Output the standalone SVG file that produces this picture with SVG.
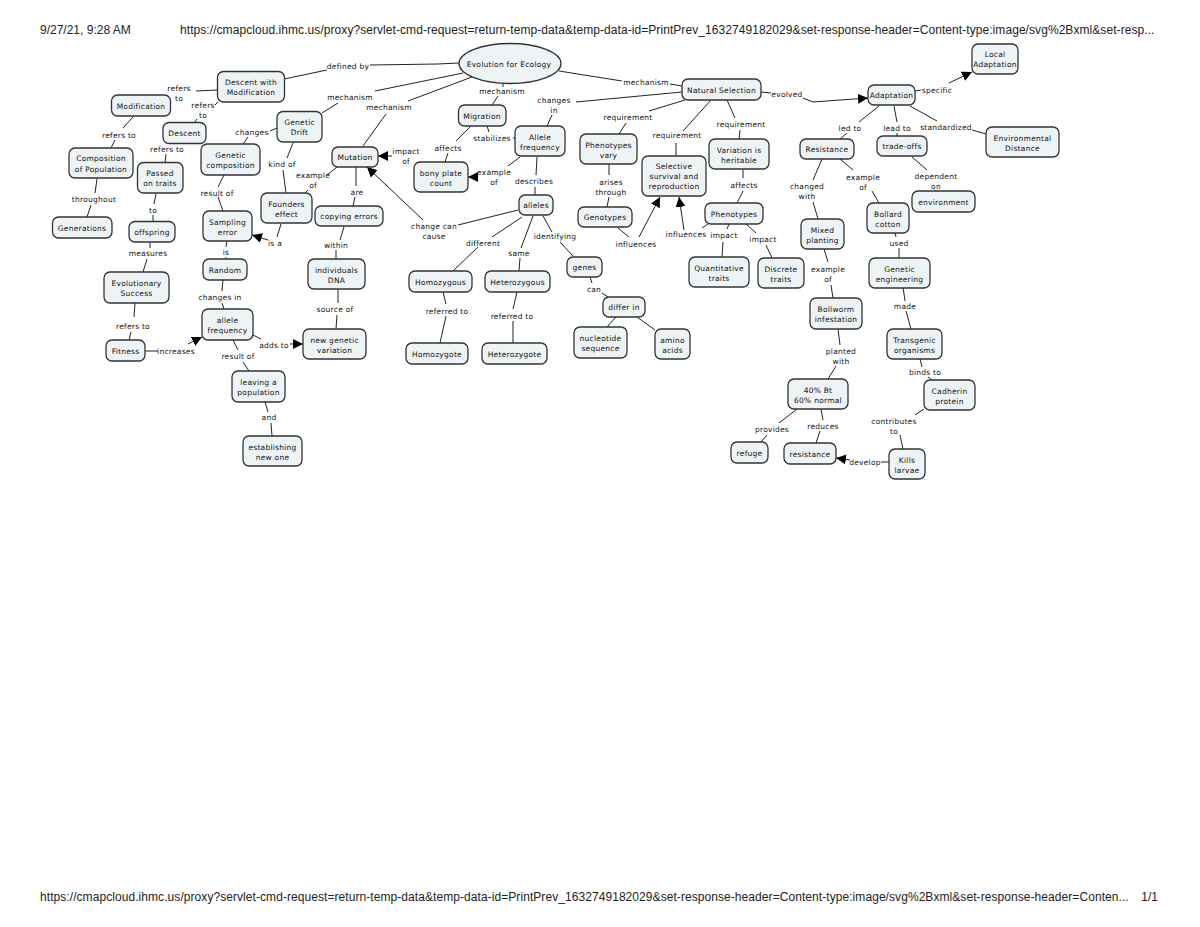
<svg xmlns="http://www.w3.org/2000/svg" width="1200" height="927" viewBox="0 0 1200 927">
<style>
.bg{fill:#fff}
.h{font:12px "Liberation Sans",Arial,sans-serif;fill:#222}
.u{letter-spacing:.066px}
.n rect,.n ellipse{fill:#eef3f6;stroke:#333;stroke-width:1.3}
text.t{font:7.5px "DejaVu Sans",Verdana,sans-serif;fill:#111;text-anchor:middle;letter-spacing:.25px}
#connectors path{fill:none;stroke:#222;stroke-width:1}
</style>
<defs><marker id="arrow" markerUnits="userSpaceOnUse" markerWidth="11" markerHeight="11" refX="10" refY="5" orient="auto"><path d="M0 0L10 5L0 10Z" fill="#000"/></marker></defs>
<rect class="bg" width="1200" height="927"/>
<g id="page-header"><text class="h" x="40" y="34">9/27/21, 9:28 AM</text><text class="h u" x="180" y="34">https://cmapcloud.ihmc.us/proxy?servlet-cmd-request=return-temp-data&amp;temp-data-id=PrintPrev_1632749182029&amp;set-response-header=Content-type:image/svg%2Bxml&amp;set-resp...</text></g>
<g id="page-footer"><text class="h u" x="40" y="901">https://cmapcloud.ihmc.us/proxy?servlet-cmd-request=return-temp-data&amp;temp-data-id=PrintPrev_1632749182029&amp;set-response-header=Content-type:image/svg%2Bxml&amp;set-response-header=Conten...</text><text class="h" x="1158" y="901" text-anchor="end">1/1</text></g>
<g id="connectors">
<path d="M459 63L438 64L370 65M327 70L284 79"/>
<path d="M463 73L375 91M338 103L322 113"/>
<path d="M472 77L408 101M386 114L363 146"/>
<path d="M503 83L503 87M498 96L492 105"/>
<path d="M559 71L622 81M670 84L682 86"/>
<path d="M682 92L576 102M552 115L547 126"/>
<path d="M685 100L649 111M626 123L619 134"/>
<path d="M711 100L683 131M676 143L676 156"/>
<path d="M727 100L735 118M740 130L739 139"/>
<path d="M761 92L771 93"/><path d="M803 98L813 102L868 98" marker-end="url(#arrow)"/>
<path d="M915 91L921 90"/><path d="M949 83L972 72" marker-end="url(#arrow)"/>
<path d="M879 106L859 122M847 133L840 139"/>
<path d="M894 106L897 122M897 133L897 136"/>
<path d="M910 106L937 121M972 130L986 134"/>
<path d="M912 157L927 170M935 190L935 191"/>
<path d="M822 159L813 180M813 202L818 219"/>
<path d="M840 159L853 170M872 191L879 203"/>
<path d="M895 233L896 237M899 248L899 258"/>
<path d="M903 287L905 301M906 311L911 329"/>
<path d="M920 359L922 367M928 377L932 380"/>
<path d="M924 409L915 415M900 435L903 449"/>
<path d="M889 462L881 462"/><path d="M850 460L836 458" marker-end="url(#arrow)"/>
<path d="M821 409L823 420M820 431L816 443"/>
<path d="M797 409L779 423M767 435L761 442"/>
<path d="M838 329L840 345M836 366L828 379"/>
<path d="M824 249L828 262M831 285L833 298"/>
<path d="M729 224L727 229M723 242L722 257"/>
<path d="M746 224L756 233M766 245L772 258"/>
<path d="M743 170L743 178M743 191L737 203"/>
<path d="M708 224L702 228"/><path d="M684 230L679 197" marker-end="url(#arrow)"/>
<path d="M618 228L629 237"/><path d="M639 237L660 197" marker-end="url(#arrow)"/>
<path d="M609 164L609 175M609 197L607 207"/>
<path d="M537 157L536 175M535 187L535 195"/>
<path d="M520 157L508 166"/><path d="M477 177L468 177" marker-end="url(#arrow)"/>
<path d="M487 126L489 132M513 138L515 138"/>
<path d="M471 126L456 141M448 153L445 162"/>
<path d="M392 156L378 156" marker-end="url(#arrow)"/>
<path d="M518 210L458 225"/><path d="M423 220L367 167" marker-end="url(#arrow)"/>
<path d="M522 217L492 237M478 247L453 271"/>
<path d="M533 216L521 248M520 258L519 271"/>
<path d="M543 216L552 232M560 242L573 256"/>
<path d="M590 277L592 283M602 293L608 297"/>
<path d="M616 317L607 327M637 317L655 330"/>
<path d="M443 292L446 304M446 316L440 343"/>
<path d="M517 292L513 309M513 321L513 343"/>
<path d="M217 90L196 91"/>
<path d="M218 102L215 105M197 119L194 123"/>
<path d="M133 117L123 128M115 140L111 148"/>
<path d="M97 179L95 193M91 205L87 217"/>
<path d="M166 154L165 163"/>
<path d="M156 194L154 204M153 215L153 222"/>
<path d="M150 243L150 248M147 259L143 272"/>
<path d="M135 303L134 317M131 332L129 340"/>
<path d="M145 351L158 351"/><path d="M188 344L202 337" marker-end="url(#arrow)"/>
<path d="M223 280L222 291M222 303L224 309"/>
<path d="M253 335L261 339"/><path d="M290 344L303 344" marker-end="url(#arrow)"/>
<path d="M233 340L238 350M243 362L249 371"/>
<path d="M265 402L268 412M271 423L272 436"/>
<path d="M338 289L338 303M337 315L336 329"/>
<path d="M344 227L340 240M336 250L336 259"/>
<path d="M356 167L356 186M355 197L353 206"/>
<path d="M308 190L305 193M327 175L337 167"/>
<path d="M293 143L287 158M283 170L286 193"/>
<path d="M277 128L270 131M248 137L243 144"/>
<path d="M224 175L218 187M218 197L223 211"/>
<path d="M227 241L226 247M226 257L226 259"/>
<path d="M281 224L277 237"/><path d="M268 240L252 235" marker-end="url(#arrow)"/>
</g>
<g id="connector-labels">
<text class="t" x="348" y="69">defined by</text>
<text class="t" x="350" y="100">mechanism</text>
<text class="t" x="389" y="110">mechanism</text>
<text class="t" x="502" y="94">mechanism</text>
<text class="t" x="646" y="85">mechanism</text>
<text class="t" x="554" y="103">changes</text><text class="t" x="554" y="113">in</text>
<text class="t" x="628" y="120">requirement</text>
<text class="t" x="677" y="138">requirement</text>
<text class="t" x="741" y="127">requirement</text>
<text class="t" x="787" y="97">evolved</text>
<text class="t" x="937" y="93">specific</text>
<text class="t" x="850" y="131">led to</text>
<text class="t" x="897" y="131">lead to</text>
<text class="t" x="946" y="130">standardized</text>
<text class="t" x="936" y="179">dependent</text><text class="t" x="936" y="189">on</text>
<text class="t" x="807" y="189">changed</text><text class="t" x="807" y="199">with</text>
<text class="t" x="863" y="180">example</text><text class="t" x="863" y="190">of</text>
<text class="t" x="899" y="246">used</text>
<text class="t" x="905" y="309">made</text>
<text class="t" x="925" y="375">binds to</text>
<text class="t" x="894" y="424">contributes</text><text class="t" x="894" y="434">to</text>
<text class="t" x="865" y="465">develop</text>
<text class="t" x="823" y="429">reduces</text>
<text class="t" x="772" y="432">provides</text>
<text class="t" x="841" y="354">planted</text><text class="t" x="841" y="364">with</text>
<text class="t" x="828" y="272">example</text><text class="t" x="828" y="282">of</text>
<text class="t" x="724" y="238">impact</text>
<text class="t" x="763" y="242">impact</text>
<text class="t" x="744" y="188">affects</text>
<text class="t" x="686" y="237">influences</text>
<text class="t" x="636" y="247">influences</text>
<text class="t" x="611" y="185">arises</text><text class="t" x="611" y="195">through</text>
<text class="t" x="534" y="184">describes</text>
<text class="t" x="494" y="175">example</text><text class="t" x="494" y="185">of</text>
<text class="t" x="492" y="141">stabilizes</text>
<text class="t" x="448" y="151">affects</text>
<text class="t" x="406" y="154">impact</text><text class="t" x="406" y="164">of</text>
<text class="t" x="434" y="229">change can</text><text class="t" x="434" y="239">cause</text>
<text class="t" x="483" y="246">different</text>
<text class="t" x="519" y="256">same</text>
<text class="t" x="555" y="239">identifying</text>
<text class="t" x="594" y="292">can</text>
<text class="t" x="447" y="314">referred to</text>
<text class="t" x="512" y="319">referred to</text>
<text class="t" x="179" y="91">refers</text><text class="t" x="179" y="101">to</text>
<text class="t" x="203" y="108">refers</text><text class="t" x="203" y="118">to</text>
<text class="t" x="119" y="138">refers to</text>
<text class="t" x="94" y="202">throughout</text>
<text class="t" x="167" y="152">refers to</text>
<text class="t" x="153" y="213">to</text>
<text class="t" x="148" y="256">measures</text>
<text class="t" x="133" y="329">refers to</text>
<text class="t" x="176" y="354">increases</text>
<text class="t" x="220" y="300">changes in</text>
<text class="t" x="274" y="348">adds to</text>
<text class="t" x="238" y="359">result of</text>
<text class="t" x="269" y="420">and</text>
<text class="t" x="335" y="312">source of</text>
<text class="t" x="336" y="248">within</text>
<text class="t" x="357" y="195">are</text>
<text class="t" x="313" y="178">example</text><text class="t" x="313" y="188">of</text>
<text class="t" x="282" y="167">kind of</text>
<text class="t" x="252" y="135">changes</text>
<text class="t" x="217" y="196">result of</text>
<text class="t" x="226" y="255">is</text>
<text class="t" x="275" y="246">is a</text>
</g>
<g id="evolution-for-ecology" class="n"><ellipse cx="510" cy="63.5" rx="51" ry="20"/><text class="t" x="509" y="66.5">Evolution for Ecology</text></g>
<g id="descent-with-modification" class="n"><rect x="217.5" y="71.5" width="67" height="30.5" rx="6"/><text class="t" x="251" y="84.5">Descent with</text><text class="t" x="251" y="95">Modification</text></g>
<g id="modification" class="n"><rect x="111.5" y="95" width="59" height="21" rx="6"/><text class="t" x="141" y="108.5">Modification</text></g>
<g id="descent" class="n"><rect x="163" y="122.5" width="43" height="21" rx="6"/><text class="t" x="184.5" y="136">Descent</text></g>
<g id="composition-of-population" class="n"><rect x="69" y="148" width="64" height="30" rx="6"/><text class="t" x="101" y="161">Composition</text><text class="t" x="101" y="172">of Population</text></g>
<g id="passed-on-traits" class="n"><rect x="137.5" y="162.5" width="45.5" height="30.5" rx="6"/><text class="t" x="160" y="176">Passed</text><text class="t" x="160" y="186">on traits</text></g>
<g id="generations" class="n"><rect x="52.5" y="217" width="59.5" height="21" rx="6"/><text class="t" x="82" y="231">Generations</text></g>
<g id="offspring" class="n"><rect x="129" y="221.5" width="46" height="20.5" rx="6"/><text class="t" x="152" y="235">offspring</text></g>
<g id="genetic-drift" class="n"><rect x="277" y="111.5" width="45" height="30.5" rx="6"/><text class="t" x="299.5" y="125">Genetic</text><text class="t" x="299.5" y="135">Drift</text></g>
<g id="genetic-composition" class="n"><rect x="201" y="144" width="59" height="31" rx="6"/><text class="t" x="230.5" y="158">Genetic</text><text class="t" x="230.5" y="168">composition</text></g>
<g id="sampling-error" class="n"><rect x="203" y="211" width="49" height="30" rx="6"/><text class="t" x="227.5" y="224.5">Sampling</text><text class="t" x="227.5" y="234.5">error</text></g>
<g id="founders-effect" class="n"><rect x="261" y="193" width="51" height="30" rx="6"/><text class="t" x="286.5" y="207">Founders</text><text class="t" x="286.5" y="217">effect</text></g>
<g id="mutation" class="n"><rect x="332" y="147" width="46" height="20" rx="6"/><text class="t" x="355" y="160">Mutation</text></g>
<g id="copying-errors" class="n"><rect x="315" y="206" width="68" height="20" rx="6"/><text class="t" x="349" y="219">copying errors</text></g>
<g id="random" class="n"><rect x="203" y="259" width="44" height="21" rx="6"/><text class="t" x="225" y="272.5">Random</text></g>
<g id="individuals-dna" class="n"><rect x="308" y="259" width="57" height="30" rx="6"/><text class="t" x="336.5" y="272.5">individuals</text><text class="t" x="336.5" y="282.5">DNA</text></g>
<g id="evolutionary-success" class="n"><rect x="104" y="272" width="65" height="31" rx="6"/><text class="t" x="136.5" y="285.5">Evolutionary</text><text class="t" x="136.5" y="295.5">Success</text></g>
<g id="fitness" class="n"><rect x="106" y="340" width="39" height="21" rx="6"/><text class="t" x="125.5" y="354">Fitness</text></g>
<g id="allele-frequency-2" class="n"><rect x="202" y="309" width="51" height="31" rx="6"/><text class="t" x="227.5" y="323">allele</text><text class="t" x="227.5" y="333">frequency</text></g>
<g id="new-genetic-variation" class="n"><rect x="303" y="329" width="63" height="30" rx="6"/><text class="t" x="334.5" y="343">new genetic</text><text class="t" x="334.5" y="353">variation</text></g>
<g id="leaving-a-population" class="n"><rect x="232" y="371" width="53" height="31" rx="6"/><text class="t" x="258.5" y="385">leaving a</text><text class="t" x="258.5" y="395">population</text></g>
<g id="establishing-new-one" class="n"><rect x="243" y="436" width="59" height="30" rx="6"/><text class="t" x="272.5" y="449.5">establishing</text><text class="t" x="272.5" y="459.5">new one</text></g>
<g id="migration" class="n"><rect x="458.5" y="105" width="47.5" height="21" rx="6"/><text class="t" x="482" y="119">Migration</text></g>
<g id="allele-frequency" class="n"><rect x="515" y="126" width="50" height="30" rx="6"/><text class="t" x="540" y="139.5">Allele</text><text class="t" x="540" y="149.5">frequency</text></g>
<g id="phenotypes-vary" class="n"><rect x="580" y="134" width="57" height="30" rx="6"/><text class="t" x="608.5" y="147.5">Phenotypes</text><text class="t" x="608.5" y="157.5">vary</text></g>
<g id="selective-survival" class="n"><rect x="642" y="156" width="64" height="40" rx="6"/><text class="t" x="674" y="169">Selective</text><text class="t" x="674" y="179">survival and</text><text class="t" x="674" y="189">reproduction</text></g>
<g id="bony-plate-count" class="n"><rect x="414" y="162" width="54" height="30" rx="6"/><text class="t" x="441" y="176">bony plate</text><text class="t" x="441" y="186">count</text></g>
<g id="alleles" class="n"><rect x="519" y="195" width="34" height="20" rx="6"/><text class="t" x="536" y="208">alleles</text></g>
<g id="genotypes" class="n"><rect x="578" y="207" width="54" height="20" rx="6"/><text class="t" x="605" y="220">Genotypes</text></g>
<g id="genes" class="n"><rect x="567" y="257" width="35" height="20" rx="6"/><text class="t" x="584.5" y="270">genes</text></g>
<g id="homozygous" class="n"><rect x="409" y="271" width="63" height="21" rx="6"/><text class="t" x="440.5" y="285">Homozygous</text></g>
<g id="heterozygous" class="n"><rect x="485" y="271" width="65" height="21" rx="6"/><text class="t" x="517.5" y="285">Heterozygous</text></g>
<g id="differ-in" class="n"><rect x="603" y="297" width="42" height="20" rx="6"/><text class="t" x="624" y="310">differ in</text></g>
<g id="homozygote" class="n"><rect x="406" y="343" width="62" height="21" rx="6"/><text class="t" x="437" y="356.5">Homozygote</text></g>
<g id="heterozygote" class="n"><rect x="482" y="343" width="65" height="21" rx="6"/><text class="t" x="514.5" y="356.5">Heterozygote</text></g>
<g id="nucleotide-sequence" class="n"><rect x="574" y="327" width="53" height="31" rx="6"/><text class="t" x="600.5" y="341">nucleotide</text><text class="t" x="600.5" y="351">sequence</text></g>
<g id="amino-acids" class="n"><rect x="655" y="329" width="35" height="30" rx="6"/><text class="t" x="672.5" y="342.5">amino</text><text class="t" x="672.5" y="352.5">acids</text></g>
<g id="quantitative-traits" class="n"><rect x="689" y="257" width="60" height="30" rx="6"/><text class="t" x="719" y="270.5">Quantitative</text><text class="t" x="719" y="280.5">traits</text></g>
<g id="discrete-traits" class="n"><rect x="758" y="258" width="46" height="30" rx="6"/><text class="t" x="781" y="271.5">Discrete</text><text class="t" x="781" y="281.5">traits</text></g>
<g id="natural-selection" class="n"><rect x="682" y="79" width="79" height="21" rx="6"/><text class="t" x="721.5" y="92.5">Natural Selection</text></g>
<g id="adaptation" class="n"><rect x="868" y="85" width="47" height="20" rx="6"/><text class="t" x="891.5" y="98">Adaptation</text></g>
<g id="local-adaptation" class="n"><rect x="972" y="44" width="46" height="30" rx="6"/><text class="t" x="995" y="57">Local</text><text class="t" x="995" y="67">Adaptation</text></g>
<g id="variation-is-heritable" class="n"><rect x="709" y="139" width="60" height="30" rx="6"/><text class="t" x="739" y="152.5">Variation is</text><text class="t" x="739" y="162.5">heritable</text></g>
<g id="resistance" class="n"><rect x="800" y="139" width="54" height="20" rx="6"/><text class="t" x="827" y="152">Resistance</text></g>
<g id="trade-offs" class="n"><rect x="877" y="136" width="50" height="20" rx="6"/><text class="t" x="902" y="149">trade-offs</text></g>
<g id="environmental-distance" class="n"><rect x="986" y="127" width="73" height="30" rx="6"/><text class="t" x="1022.5" y="141">Environmental</text><text class="t" x="1022.5" y="151">Distance</text></g>
<g id="environment" class="n"><rect x="912" y="191" width="63" height="21" rx="6"/><text class="t" x="943.5" y="204.5">environment</text></g>
<g id="phenotypes" class="n"><rect x="705" y="203" width="58" height="21" rx="6"/><text class="t" x="734" y="217">Phenotypes</text></g>
<g id="bollard-cotton" class="n"><rect x="867" y="203" width="42" height="30" rx="6"/><text class="t" x="888" y="217">Bollard</text><text class="t" x="888" y="227">cotton</text></g>
<g id="mixed-planting" class="n"><rect x="801" y="219" width="43" height="30" rx="6"/><text class="t" x="822.5" y="232.5">Mixed</text><text class="t" x="822.5" y="242.5">planting</text></g>
<g id="genetic-engineering" class="n"><rect x="869" y="258" width="61" height="30" rx="6"/><text class="t" x="899.5" y="271.5">Genetic</text><text class="t" x="899.5" y="281.5">engineering</text></g>
<g id="bollworm-infestation" class="n"><rect x="810" y="298" width="52" height="31" rx="6"/><text class="t" x="836" y="312">Bollworm</text><text class="t" x="836" y="322">infestation</text></g>
<g id="transgenic-organisms" class="n"><rect x="887" y="329" width="55" height="30" rx="6"/><text class="t" x="914.5" y="342.5">Transgenic</text><text class="t" x="914.5" y="352.5">organisms</text></g>
<g id="cadherin-protein" class="n"><rect x="924" y="380" width="51" height="30" rx="6"/><text class="t" x="949.5" y="393.5">Cadherin</text><text class="t" x="949.5" y="403.5">protein</text></g>
<g id="bt-normal" class="n"><rect x="788" y="379" width="60" height="30" rx="6"/><text class="t" x="818" y="393">40% Bt</text><text class="t" x="818" y="403">60% normal</text></g>
<g id="refuge" class="n"><rect x="731" y="442" width="37" height="21" rx="6"/><text class="t" x="749.5" y="456">refuge</text></g>
<g id="resistance-2" class="n"><rect x="784" y="443" width="52" height="21" rx="6"/><text class="t" x="810" y="457">resistance</text></g>
<g id="kills-larvae" class="n"><rect x="889" y="449" width="36" height="30" rx="6"/><text class="t" x="907" y="462.5">Kills</text><text class="t" x="907" y="472.5">larvae</text></g>
</svg>
